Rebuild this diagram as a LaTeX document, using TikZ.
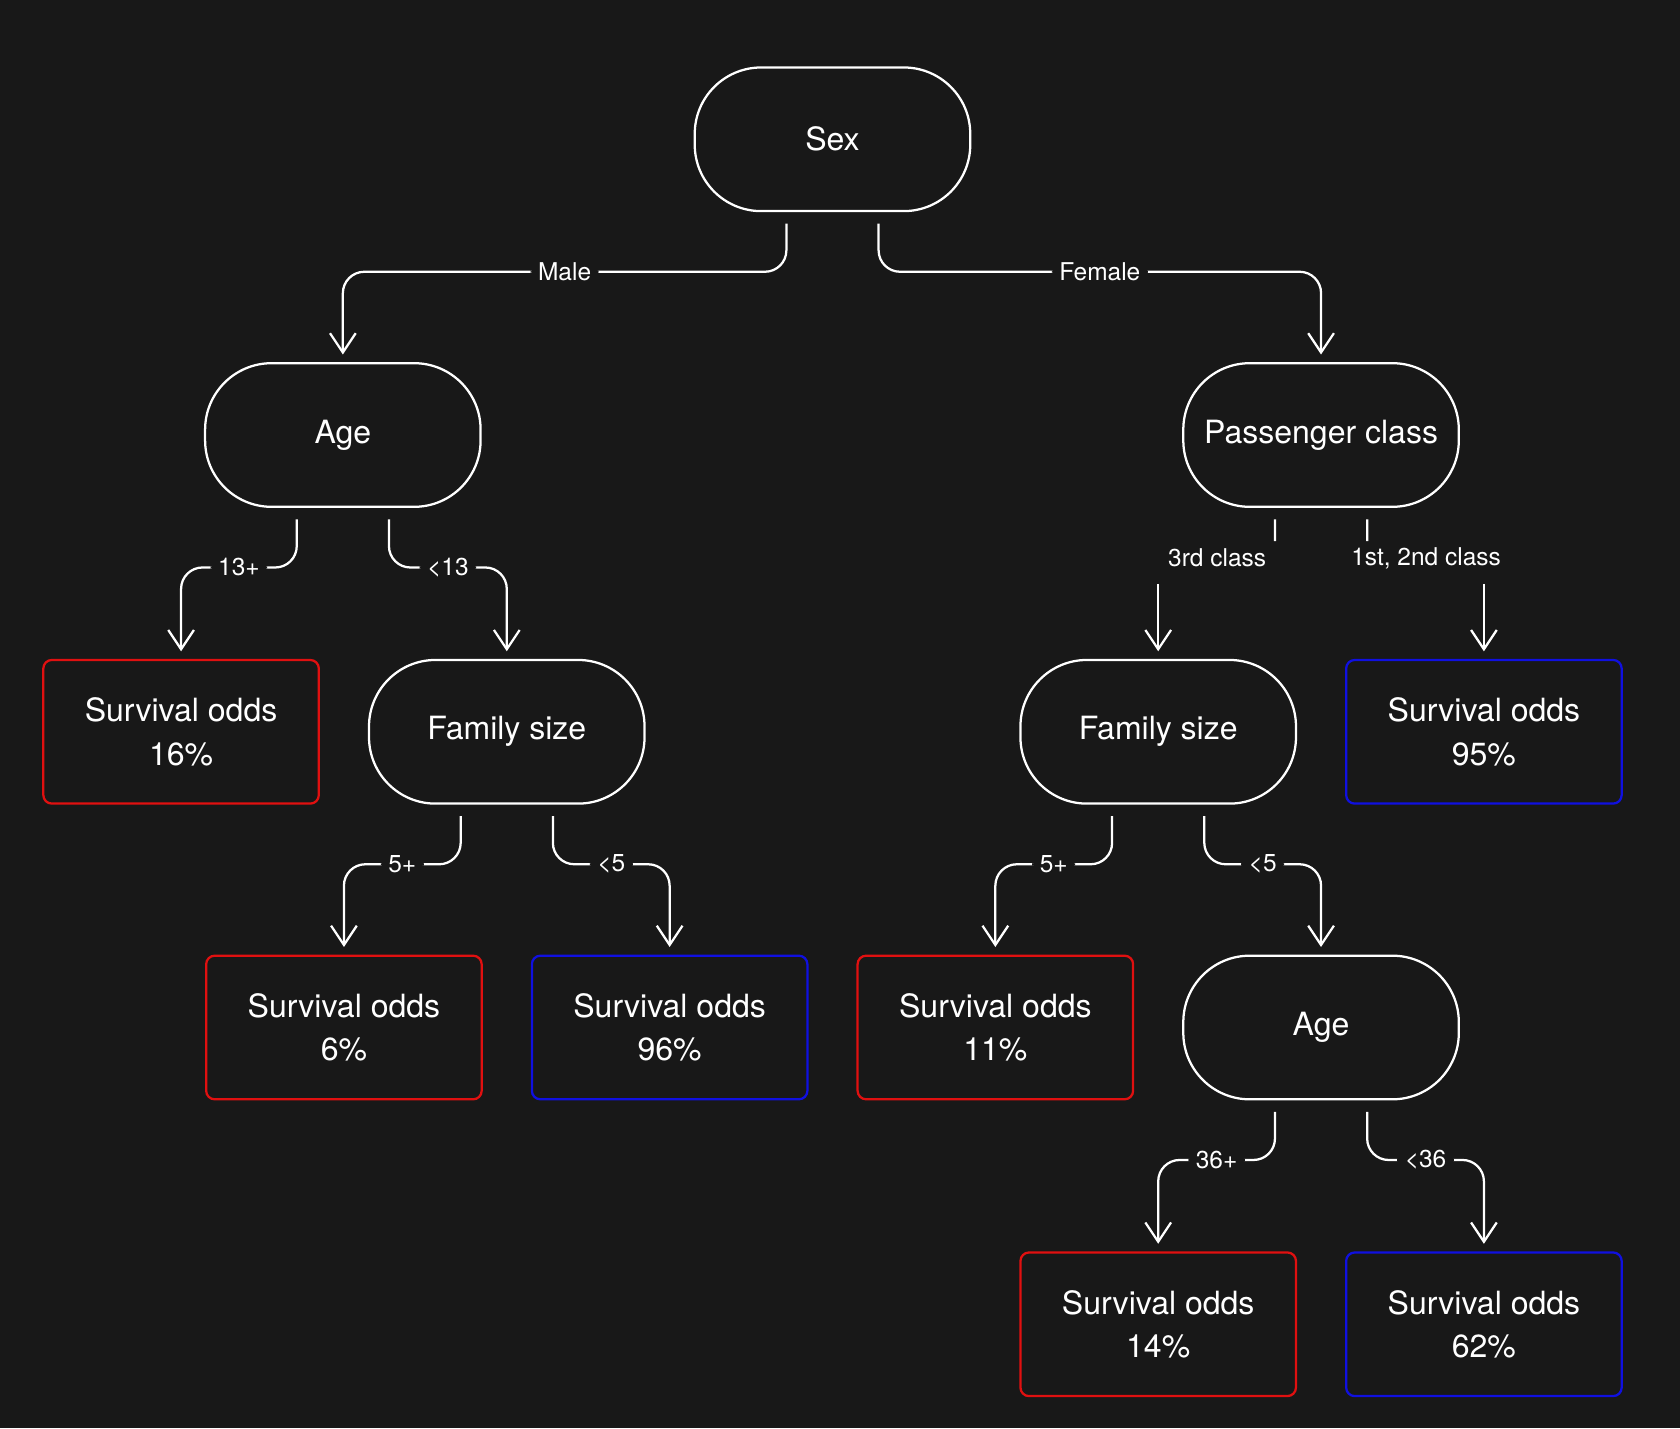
\documentclass[tikz,border=0pt]{standalone}
\usepackage{fontspec}
\setmainfont{TeX Gyre Heros}
\usetikzlibrary{positioning, arrows.meta}
\definecolor{bg}{HTML}{181818}
\definecolor{lossred}{HTML}{E01010}
\definecolor{winblue}{HTML}{1010E0}
\begin{document}
\begin{tikzpicture}[x=0.01cm, y=-0.01cm,
  split/.style={draw=white, line width=0.6pt, rounded corners=0.62cm, minimum width=2.57cm, minimum height=1.34cm, text=white, font=\fontsize{8.5}{10}\selectfont},
  odds/.style={draw=#1, line width=0.6pt, rounded corners=0.08cm, minimum width=2.57cm, minimum height=1.34cm, text=white, align=center, font=\fontsize{8.5}{11.5}\selectfont},
  conn/.style={draw=white, line width=0.6pt, rounded corners=0.2cm, -{Straight Barb[length=1.8mm, width=2.4mm]}, shorten >=2pt},
  cut/.style={fill=bg, text=white, inner sep=2pt, font=\fontsize{6.5}{8}\selectfont}]
\fill[bg] (0,0) rectangle (1568,1333);
% decision nodes
\node[split] (sex)    at (777,130)  {Sex};
\node[split] (age)    at (320,406)  {Age};
\node[split] (pclass) at (1233,406) {Passenger class};
\node[split] (famL)   at (473,683)  {Family size};
\node[split] (famR)   at (1081,683) {Family size};
\node[split] (ageR)   at (1233,959) {Age};
% leaves
\node[odds=lossred] (oddsA) at (169,683)  {Survival odds\\16\%};
\node[odds=winblue] (oddsB) at (1385,683) {Survival odds\\95\%};
\node[odds=lossred] (oddsC) at (321,959)  {Survival odds\\6\%};
\node[odds=winblue] (oddsD) at (625,959)  {Survival odds\\96\%};
\node[odds=lossred] (oddsE) at (929,959)  {Survival odds\\11\%};
\node[odds=lossred] (oddsF) at (1081,1236) {Survival odds\\14\%};
\node[odds=winblue] (oddsG) at (1385,1236) {Survival odds\\62\%};
% branches
\draw[conn] ([xshift=-0.43cm,yshift=-3pt]sex.south) -- ++(0,45) -| node[cut, pos=0.25] {Male} (age.north);
\draw[conn] ([xshift=0.43cm,yshift=-3pt]sex.south) -- ++(0,45) -| node[cut, pos=0.25] {Female} (pclass.north);
\draw[conn] ([xshift=-0.43cm,yshift=-3pt]age.south) -- ++(0,45) -| node[cut, pos=0.25] {13+} (oddsA.north);
\draw[conn] ([xshift=0.43cm,yshift=-3pt]age.south) -- ++(0,45) -| node[cut, pos=0.25] {<13} (famL.north);
\draw[conn] ([xshift=-0.43cm,yshift=-3pt]famL.south) -- ++(0,45) -| node[cut, pos=0.25] {5+} (oddsC.north);
\draw[conn] ([xshift=0.43cm,yshift=-3pt]famL.south) -- ++(0,45) -| node[cut, pos=0.25] {<5} (oddsD.north);
\draw[conn] ([xshift=-0.43cm,yshift=-3pt]famR.south) -- ++(0,45) -| node[cut, pos=0.25] {5+} (oddsE.north);
\draw[conn] ([xshift=0.43cm,yshift=-3pt]famR.south) -- ++(0,45) -| node[cut, pos=0.25] {<5} (ageR.north);
\draw[conn] ([xshift=-0.43cm,yshift=-3pt]ageR.south) -- ++(0,45) -| node[cut, pos=0.25] {36+} (oddsF.north);
\draw[conn] ([xshift=0.43cm,yshift=-3pt]ageR.south) -- ++(0,45) -| node[cut, pos=0.25] {<36} (oddsG.north);
% passenger class split
\node[cut] (third) at (1136,521) {3rd class};
\node[cut] (upper) at (1331,521) {1st, 2nd class};
\coordinate (thirdtop) at (1190,505);
\coordinate (uppertop) at (1276,505);
\coordinate (thirdend) at (1081,545);
\coordinate (upperend) at (1385,545);
\draw[draw=white, line width=0.6pt] ([xshift=-0.43cm,yshift=-3pt]pclass.south) -- (thirdtop);
\draw[draw=white, line width=0.6pt] ([xshift=0.43cm,yshift=-3pt]pclass.south) -- (uppertop);
\draw[conn] (thirdend) -- (famR.north);
\draw[conn] (upperend) -- (oddsB.north);
\end{tikzpicture}
\end{document}
